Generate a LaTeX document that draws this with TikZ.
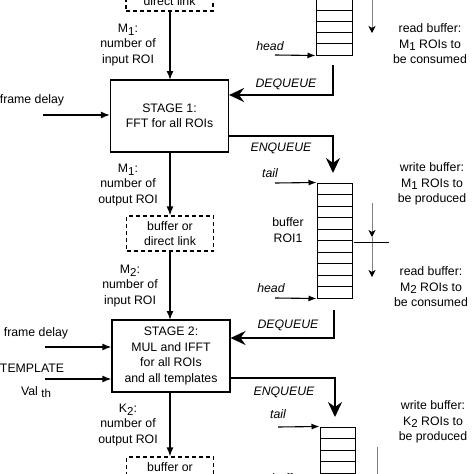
\documentclass[tikz,border=0pt]{standalone}
\usepackage{fontspec}
\setmainfont{Liberation Sans}
\usetikzlibrary{arrows.meta,calc}
\newcommand\mysb[1]{\raisebox{-0.4ex}{\fontsize{11.5}{11.5}\selectfont #1}}
\tikzset{
 lbl/.style={font=\fontsize{12.3}{15.5}\selectfont, align=center, inner sep=0pt},
 ital/.style={lbl, font=\fontsize{12.3}{15.5}\selectfont\itshape},
 stagebox/.style={draw, line width=1.1pt, minimum width=118pt, minimum height=72pt, lbl},
 dashbox/.style={draw, dash pattern=on 4pt off 3pt, line width=1.1pt, minimum width=87pt, minimum height=35pt, lbl},
 arr/.style={line width=1.5pt, -{Latex[length=9pt,width=7pt]}},
 bigarr/.style={line width=2pt, -{Stealth[length=15pt,width=14pt,inset=5pt]}},
 ptr/.style={line width=1.1pt, -{Latex[length=8pt,width=6pt]}},
 thinln/.style={draw=gray, line width=0.6pt},
 thinarr/.style={thinln, -{Stealth[length=7pt,width=7pt,inset=2pt,black]}},
 bufbox/.style={draw, line width=1pt, inner sep=0pt},
}
\begin{document}
\begin{tikzpicture}[x=1pt,y=-1pt]
\useasboundingbox (0,0) rectangle (474,474);
\fill[white] (0,0) rectangle (474,474);
\clip (0,0) rectangle (474,474);

% stages
\node[stagebox] (s1) at (169.5,116) {STAGE 1:\\FFT for all ROIs};
\node[stagebox] (s2) at (171,356) {STAGE 2:\\MUL and IFFT\\for all ROIs\\and all templates};

% buffer or direct link boxes
\node[dashbox] (db0) at (169.5,-6.5) {buffer or\\direct link};
\node[dashbox] (db1) at (170,233.5) {buffer or\\direct link};
\node[dashbox] (db2) at (170,474.5) {buffer or\\direct link};

% vertical flow
\draw[arr] (db0.south -| 170,0) -- (170,80);
\draw[arr] (170,152) -- (db1.north);
\draw[arr] (db1.south) -- (170,320);
\draw[arr] (170,392) -- (db2.north);

\node[lbl] (m1in) at (128,45) {M\mysb{1}:\\number of\\input ROI};
\node[lbl] (m1out) at (128,185) {M\mysb{1}:\\number of\\output ROI};
\node[lbl] (m2in) at (130,286) {M\mysb{2}:\\number of\\input ROI};
\node[lbl] (k2out) at (128,425) {K\mysb{2}:\\number of\\output ROI};

% left inputs
\node[lbl] (fdl1) at (32,100) {frame delay};
\coordinate (fd1) at (43,115);
\draw[arr] (fd1) -- (fd1 -| s1.west);
\node[lbl] (fdl2) at (36,333) {frame delay};
\coordinate (fd2) at (45,347);
\draw[arr] (fd2) -- (fd2 -| s2.west);
\node[lbl] (tpl) at (32,368) {TEMPLATE};
\coordinate (tp) at (45,379);
\draw[arr] (tp) -- (tp -| s2.west);
\node[lbl] (val) at (36,392) {Val \mysb{th}};

% buffers
\node[bufbox, minimum width=36pt, minimum height=56.25pt] (b1) at (334,26.875) {};
\foreach \y in {10,21.25,32.5,43.75} \draw[line width=1pt] (316,\y) -- (352,\y);
\node[lbl] (b1l) at (284,-16.5) {buffer\\ROIs};

\node[bufbox, minimum width=35pt, minimum height=115pt] (b2) at (334.5,240.5) {};
\foreach \k in {1,...,9} \draw[line width=1pt] (317,183+11.5*\k) -- (352,183+11.5*\k);
\node[lbl] (b2l) at (288,230) {buffer\\ROI1};

\node[bufbox, minimum width=35pt, minimum height=69pt] (b3) at (337.5,461.5) {};
\foreach \k in {1,...,5} \draw[line width=1pt] (320,427+11.5*\k) -- (355,427+11.5*\k);
\node[lbl] (b3l) at (288,486) {buffer\\ROI2};

% head / tail pointers
\coordinate (h1) at (275,55);
\draw[ptr] (h1) -- (b1.south west);
\node[ital] (h1l) at (270,46) {head};
\coordinate (t2) at (275,183);
\draw[ptr] (t2) -- (b2.north west);
\node[ital] (t2l) at (270,173) {tail};
\coordinate (h2) at (275,298);
\draw[ptr] (h2) -- (b2.south west);
\node[ital] (h2l) at (271,288) {head};
\coordinate (t3) at (278,427);
\draw[ptr] (t3) -- (b3.north west);
\node[ital] (t3l) at (278,414) {tail};

% dequeue / enqueue
\coordinate (dq1s) at (333,65);
\coordinate (dq1c) at (333,95);
\draw[bigarr] (dq1s) -- (dq1c) -- (dq1c -| s1.east);
\node[ital] (dq1l) at (286,84) {DEQUEUE};
\coordinate (eq1c) at (333,136);
\coordinate (eq1e) at (333,173);
\draw[bigarr] (eq1c -| s1.east) -- (eq1c) -- (eq1e);
\node[ital] (eq1l) at (281,148) {ENQUEUE};

\coordinate (dq2s) at (334,310);
\coordinate (dq2c) at (334,338);
\draw[bigarr] (dq2s) -- (dq2c) -- (dq2c -| s2.east);
\node[ital] (dq2l) at (288,325) {DEQUEUE};
\coordinate (eq2c) at (335,378);
\coordinate (eq2e) at (335,417);
\draw[bigarr] (eq2c -| s2.east) -- (eq2c) -- (eq2e);
\node[ital] (eq2l) at (284,392) {ENQUEUE};

% gray read/write markers
\coordinate (g0a) at (372,-5);
\coordinate (g0b) at (372,33);
\draw[thinarr] (g0a) -- (g0b);
\coordinate (g1a) at (372,203);
\coordinate (g1b) at (372,237);
\coordinate (g1c) at (372,277);
\draw[thinarr] (g1a) -- (g1b);
\draw[thinarr] (g1b) -- (g1c);
\coordinate (tk1) at (354,242);
\coordinate (tk2) at (389,242);
\draw[line width=0.9pt] (tk1) -- (tk2);
\coordinate (g2a) at (377,447);
\coordinate (g2b) at (377,485);
\draw[thinln] (g2a) -- (g2b);

\node[lbl] (rb1) at (430,44) {read buffer:\\M\mysb{1} ROIs to\\be consumed};
\node[lbl] (wb1) at (432,184) {write buffer:\\M\mysb{1} ROIs to\\be produced};
\node[lbl] (rb2) at (431,287) {read buffer:\\M\mysb{2} ROIs to\\be consumed};
\node[lbl] (wb2) at (433,422) {write buffer:\\K\mysb{2} ROIs to\\be produced};
\end{tikzpicture}
\end{document}
